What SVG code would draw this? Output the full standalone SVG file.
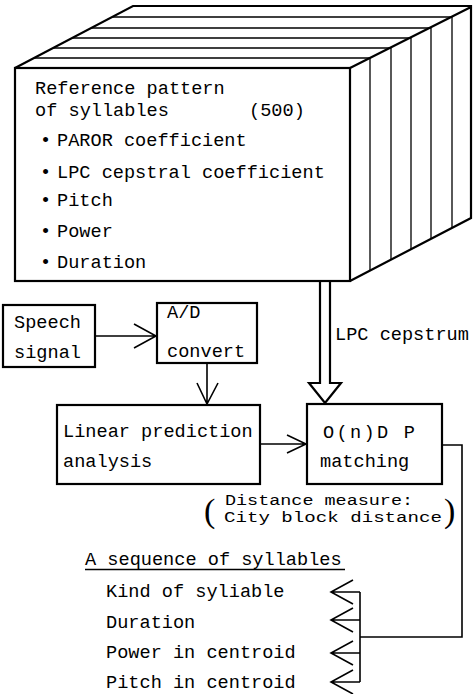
<svg xmlns="http://www.w3.org/2000/svg" width="474" height="694" viewBox="0 0 474 694">
<style>
.t{font-family:"Liberation Mono","DejaVu Sans Mono",monospace;font-size:18.6px;fill:#000}
.s{font-family:"Liberation Mono","DejaVu Sans Mono",monospace;font-size:14px;fill:#000}
.box{fill:#fff;stroke:#000;stroke-width:2.2}
.thin{fill:none;stroke:#000;stroke-width:1.3}
.ln{fill:none;stroke:#000;stroke-width:1.6}
.thick{fill:none;stroke:#000;stroke-width:2.2}
.par{font-family:"Liberation Serif",serif;font-size:34px;fill:#000}
</style>
<rect width="474" height="694" fill="#fff"/>
<g id="reference-pattern">
  <path class="thick" d="M15,68 L133,6 L471,6 L471,218 L350,281 M350,68 L471,7"/>
  <path class="thin" d="M34,58 H370 M53,48 H391 M72,38 H411 M91,28 H431 M112,17 H452"/>
  <path class="thin" d="M370,58 V270.6 M391,48 V259.7 M411,38 V249.2 M431,28 V238.8 M452,17 V227.9"/>
  <rect class="box" x="15" y="68" width="335" height="213"/>
  <text class="t" x="35" y="94">Reference pattern</text>
  <text class="t" x="35" y="116">of syllables</text>
  <text class="t" x="249" y="116">(500)</text>
  <text class="t" x="40" y="146">•</text><text class="t" x="57" y="146">PAROR coefficient</text>
  <text class="t" x="40" y="178">•</text><text class="t" x="57" y="178">LPC cepstral coefficient</text>
  <text class="t" x="40" y="206">•</text><text class="t" x="57" y="206">Pitch</text>
  <text class="t" x="40" y="237">•</text><text class="t" x="57" y="237">Power</text>
  <text class="t" x="40" y="268">•</text><text class="t" x="57" y="268">Duration</text>
</g>
<g id="speech-signal">
  <rect class="box" x="3" y="305" width="92" height="62"/>
  <text class="t" x="14" y="328">Speech</text>
  <text class="t" x="14" y="358">signal</text>
</g>
<g id="ad-convert">
  <rect class="box" x="157" y="303" width="100" height="60"/>
  <text class="t" x="167" y="318">A/D</text>
  <text class="t" x="167" y="357">convert</text>
</g>
<g id="linear-prediction">
  <rect class="box" x="57" y="405" width="203" height="79"/>
  <text class="t" x="63" y="437">Linear prediction</text>
  <text class="t" x="63" y="467">analysis</text>
</g>
<g id="odp-matching">
  <rect class="box" x="307" y="404" width="135" height="80"/>
  <text class="t" x="323" y="438" textLength="92" lengthAdjust="spacing">O(n)D P</text>
  <text class="t" x="320" y="467">matching</text>
</g>
<g id="distance-note">
  <text class="par" x="204" y="522">(</text>
  <text class="s" x="225" y="505" textLength="188" lengthAdjust="spacingAndGlyphs">Distance measure:</text>
  <text class="s" x="224" y="522" textLength="218" lengthAdjust="spacingAndGlyphs">City block distance</text>
  <text class="par" x="444" y="522">)</text>
</g>
<g id="output-sequence">
  <text class="t" x="85" y="565">A sequence of syllables</text>
  <line x1="85" y1="569.5" x2="345" y2="569.5" stroke="#000" stroke-width="1.3"/>
  <text class="t" x="106" y="597">Kind of syliable</text>
  <text class="t" x="106" y="628">Duration</text>
  <text class="t" x="106" y="658">Power in centroid</text>
  <text class="t" x="106" y="688">Pitch in centroid</text>
</g>
<g id="connectors">
  <path class="ln" d="M95,336 H156 M134,324 L156,336 L134,348"/>
  <path class="ln" d="M207,363 V404 M197,383 L207,404 L218,383"/>
  <path class="ln" d="M260,444 H306 M287,435 L306,444 L287,453"/>
  <path class="thick" d="M320,281 V383 H309 L325,403 L341,383 H330 V281"/>
  <text class="t" x="335" y="340">LPC cepstrum</text>
  <path class="ln" d="M442,445 H462 V637 H360 M360,592 V682"/>
  <path class="ln" d="M360,592 H331 M353,580 L331,592 L353,604"/>
  <path class="ln" d="M360,620 H331 M353,608 L331,620 L353,632"/>
  <path class="ln" d="M360,653 H331 M353,641 L331,653 L353,665"/>
  <path class="ln" d="M360,682 H331 M353,670 L331,682 L353,694"/>
</g>
</svg>
